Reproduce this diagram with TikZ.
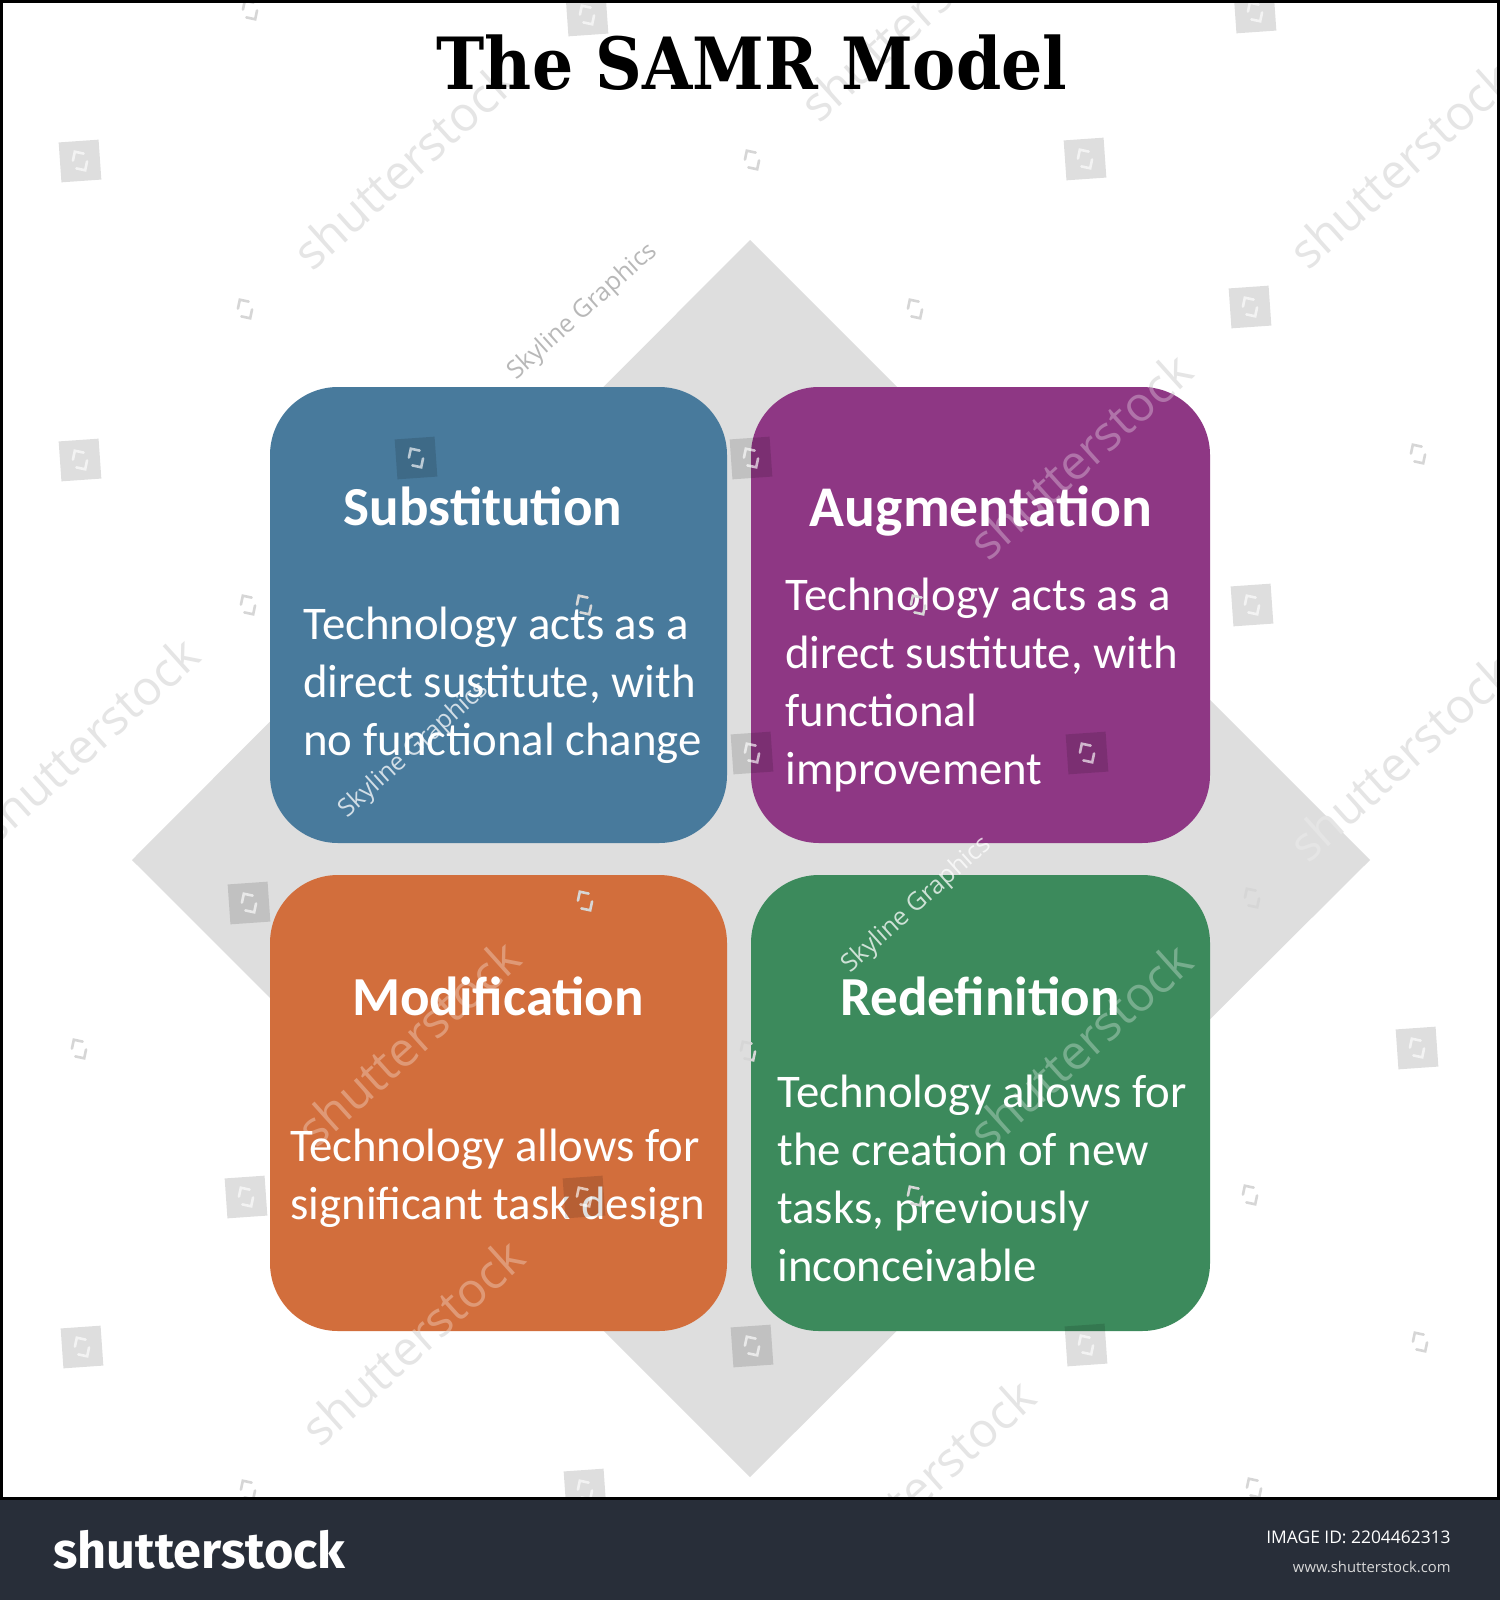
\documentclass[tikz,border=0pt]{standalone}
\usepackage{fontspec}
\setmainfont{Carlito}
\newfontfamily\titlefont{DejaVu Serif}
\newfontfamily\markfont{Open Sans}
\newfontfamily\logofont{Fira Sans}
\definecolor{sblue}{HTML}{487A9C}
\definecolor{spurple}{HTML}{8E3784}
\definecolor{sorange}{HTML}{D26E3C}
\definecolor{sgreen}{HTML}{3C8A5C}
\definecolor{sgray}{HTML}{DEDEDE}
\definecolor{sfoot}{HTML}{282E39}
\newcommand{\markspots}{404/166,1400/165,911/18,87/740,1400/758,408/1043,412/1342,1080/456,1080/1046,923/1482}
\tikzset{
  x=0.5pt,y=-0.5pt,
  card/.style={rounded corners=34pt,draw=none},
  head/.style={anchor=base,inner sep=0pt,text=white,font=\fontsize{27.5}{32}\selectfont\bfseries},
  body/.style={anchor=north west,inner sep=0pt,text=white,align=left,font=\fontsize{23.4}{29}\selectfont},
  wmgray/.style={font=\markfont\fontsize{24}{24}\selectfont,text=black!10,rotate=42},
  wmwhite/.style={font=\markfont\fontsize{24}{24}\selectfont,text=white,text opacity=.3,rotate=42},
  skygray/.style={font=\markfont\fontsize{12.5}{14}\selectfont,text=black!28,rotate=42},
  skywhite/.style={font=\markfont\fontsize{12.5}{14}\selectfont,text=white,text opacity=.75,rotate=42},
  wmicon/.pic={
    \draw[line width=1.3pt,black!16,line cap=round,rotate=-12] (-7,1) -- (-7,-8) -- (2,-8) (7,-1) -- (7,8) -- (-2,8);
  },
  wmsquare/.pic={
    \fill[black,opacity=.13,rotate=4] (-20,-20) rectangle (20,20);
    \draw[line width=1.3pt,white,opacity=.65,line cap=round,rotate=-12] (-7,1) -- (-7,-8) -- (2,-8) (7,-1) -- (7,8) -- (-2,8);
  }
}
\begin{document}
\begin{tikzpicture}
\useasboundingbox (0,0) rectangle (1500,1600);
\fill[white] (0,0) rectangle (1500,1600);
\fill[sgray] (750,240) -- (1370,860) -- (750,1477) -- (132,860) -- cycle;

\begin{scope}
\clip (3,3) rectangle (1497,1497);
\foreach \p/\q in \markspots
  \node[wmgray] at (\p,\q) {shutterstock};
\node[skygray] (sky1) at (583,312) {Skyline Graphics};
\end{scope}

\fill[card,sblue]   (270,387) rectangle (727,843);
\fill[card,spurple] (751,387) rectangle (1210,843);
\fill[card,sorange] (270,875) rectangle (727,1331);
\fill[card,sgreen]  (751,875) rectangle (1210,1331);

\begin{scope}
\clip[rounded corners=34pt] (270,387) rectangle (727,843) (751,387) rectangle (1210,843) (270,875) rectangle (727,1331) (751,875) rectangle (1210,1331);
\foreach \p/\q in \markspots
  \node[wmwhite] at (\p,\q) {shutterstock};
\end{scope}

\node[head] (h1) at (483,525) {Substitution};
\node[head,font=\fontsize{28.8}{32}\selectfont\bfseries] (h2) at (981,526) {Augmentation};
\node[head] (h3) at (498,1015) {Modification};
\node[head] (h4) at (980,1015) {Redefinition};

\node[body] (b1) at (303,607) {Technology acts as a\\direct sustitute, with\\no functional change};
\node[body] (b2) at (785,578) {Technology acts as a\\direct sustitute, with\\functional\\improvement};
\node[body] (b3) at (290,1129) {Technology allows for\\significant task design};
\node[body] (b4) at (777,1075) {Technology allows for\\the creation of new\\tasks, previously\\inconceivable};

\node[anchor=base,inner sep=0pt,font=\titlefont\fontsize{36}{40}\selectfont\bfseries] (title) at (752,90) {\scalebox{0.9}[1]{The SAMR Model}};

\node[skywhite] (sky2) at (414,750) {Skyline Graphics};
\node[skywhite] (sky3) at (917,905) {Skyline Graphics};

\begin{scope}
\clip (3,3) rectangle (1497,1497);
\foreach \p/\q in {80/161,1085/159,80/460,416/458,751/458,249/903,752/753,1087/753,1252/605,1250/307,1417/1048,246/1197,584/1197,82/1347,752/1346,1086/1345,585/1490,587/15,1255/12}
  \pic at (\p,\q) {wmsquare};
\foreach \p/\q in {250/10,752/160,245/309,915/309,1418/454,248/605,584/605,918/605,585/901,1252/898,79/1049,748/1051,1250/1195,915/1196,1420/1342,248/1490,1254/1488}
  \pic at (\p,\q) {wmicon};
\end{scope}

\draw[line width=1.75pt,black] (1.5,1.5) rectangle (1498.5,1498.5);
\fill[sfoot] (0,1500) rectangle (1500,1600);
\node[anchor=base west,inner sep=0pt,text=white,font=\logofont\fontsize{25.2}{30}\selectfont\bfseries] (logo) at (53,1568) {shutterstock};
\node[anchor=base east,inner sep=0pt,text=white,font=\markfont\fontsize{8.7}{11}\selectfont] (imgid) at (1451,1543) {IMAGE ID: 2204462313};
\node[anchor=base east,inner sep=0pt,text=white!85!black,font=\markfont\fontsize{7.4}{10}\selectfont] (site) at (1451,1572) {www.shutterstock.com};
\end{tikzpicture}
\end{document}
